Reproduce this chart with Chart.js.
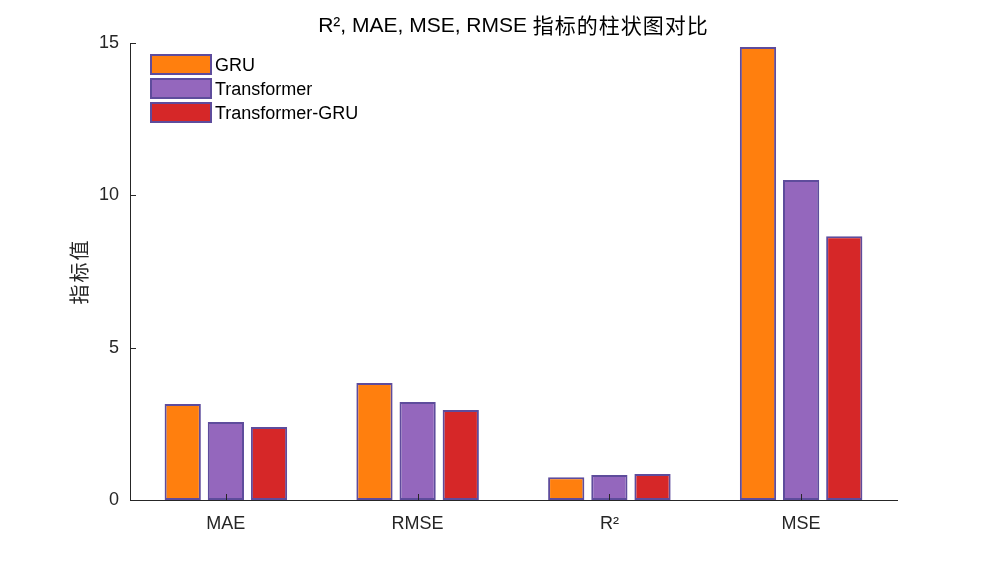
<!DOCTYPE html>
<html>
<head>
<meta charset="utf-8">
<script src="https://cdn.jsdelivr.net/npm/chart.js@4/dist/chart.umd.min.js"></script>
<style>
  html, body { margin: 0; padding: 0; background: #fff; }
  #wrap { width: 990px; height: 563px; }
</style>
</head>
<body>
<div id="wrap"><canvas id="barCanvas" width="990" height="563"></canvas></div>
<script>
// data
let labels = ["MAE", "RMSE", "R²", "MSE"]
let gru = [3.15, 3.84, 0.75, 14.87]
let transformer = [2.56, 3.22, 0.82, 10.50]
let transGru = [2.40, 2.95, 0.85, 8.66]
let seriesNames = ["GRU", "Transformer", "Transformer-GRU"]
let colors = ["#FF7F0E", "#9467BD", "#D62728"]
let yTicks = [0, 5, 10, 15]

let edge = "#5E4C9C"
let ink = "#262626"
let fontFam = "'Liberation Sans', Arial, 'Noto Sans CJK SC', sans-serif"
let cjkFam = "'Noto Sans CJK SC', sans-serif"

// title, y label, inner ticks and legend
let extras = {
    id: "extras",
    afterDraw(chart) {
        let ctx = chart.ctx
        let area = chart.chartArea
        let x = chart.scales.x
        let y = chart.scales.y
        ctx.save()
        ctx.fillStyle = "#000"
        ctx.textBaseline = "middle"
        ctx.textAlign = "left"
        // title in two parts: latin + CJK
        let t1 = "R², MAE, MSE, RMSE "
        let t2 = "指标的柱状图对比"
        ctx.font = "21px " + fontFam
        let w1 = ctx.measureText(t1).width
        ctx.font = "21px " + cjkFam
        ctx.letterSpacing = "1px"
        let w2 = ctx.measureText(t2).width
        let tx = (area.left + area.right) / 2 - (w1 + w2) / 2
        ctx.letterSpacing = "0px"
        ctx.font = "21px " + fontFam
        ctx.fillText(t1, tx, 26)
        ctx.font = "21px " + cjkFam
        ctx.letterSpacing = "1px"
        ctx.fillText(t2, tx + w1, 25)
        ctx.letterSpacing = "0px"

        ctx.fillStyle = ink
        ctx.textAlign = "center"
        ctx.font = "20px " + cjkFam
        ctx.letterSpacing = "2px"
        ctx.translate(79, (area.top + area.bottom) / 2)
        ctx.rotate(-Math.PI / 2)
        ctx.fillText("指标值", 0, 0)
        ctx.restore()

        // ticks pointing inward
        ctx.save()
        ctx.strokeStyle = ink
        ctx.lineWidth = 1
        ctx.beginPath()
        for (let i = 0; i < labels.length; i++) {
            let px = Math.round(x.getPixelForValue(i)) + 0.5
            ctx.moveTo(px, area.bottom)
            ctx.lineTo(px, area.bottom - 6)
        }
        for (let i = 0; i < yTicks.length; i++) {
            let py = Math.round(y.getPixelForValue(yTicks[i])) + 0.5
            ctx.moveTo(area.left, py)
            ctx.lineTo(area.left + 6, py)
        }
        ctx.stroke()

        // legend
        ctx.font = "18px " + fontFam
        ctx.textAlign = "left"
        ctx.textBaseline = "middle"
        let lx = 151, ly = 55
        chart.data.datasets.forEach((ds, i) => {
            let top = ly + i * 24
            ctx.fillStyle = ds.backgroundColor
            ctx.fillRect(lx, top, 60, 19)
            ctx.strokeStyle = edge
            ctx.lineWidth = 2
            ctx.strokeRect(lx, top, 60, 19)
            ctx.fillStyle = "#000"
            ctx.fillText(ds.label, lx + 64, top + 11)
        })
        ctx.restore()
    }
}

let barCanvas = document.getElementById("barCanvas").getContext("2d")

let barChart = new Chart(barCanvas, {
    type: "bar",
    data: {
        labels: labels,
        datasets: [gru, transformer, transGru].map((vals, i) => ({
            label: seriesNames[i],
            data: vals,
            backgroundColor: colors[i],
            borderColor: edge,
            borderWidth: 2,
            borderSkipped: false,
            categoryPercentage: 0.675,
            barPercentage: 0.84
        }))
    },
    options: {
        responsive: false,
        animation: false,
        devicePixelRatio: 1,
        layout: {
            padding: { left: 0, top: 43, right: 93, bottom: 0 }
        },
        plugins: {
            legend: { display: false },
            title: { display: false },
            tooltip: { enabled: false }
        },
        scales: {
            x: {
                grid: { display: false, drawTicks: false },
                border: { color: ink, width: 1 },
                ticks: { color: ink, font: { size: 18, family: fontFam }, padding: 13 },
                afterFit(scale) { scale.height = 63 }
            },
            y: {
                min: 0,
                max: 15,
                grid: { display: false, drawTicks: false },
                border: { color: ink, width: 1 },
                ticks: {
                    stepSize: 5,
                    color: ink,
                    font: { size: 18, family: fontFam },
                    padding: 11
                },
                afterFit(scale) { scale.width = 130 }
            }
        }
    },
    plugins: [extras]
})
</script>
</body>
</html>
